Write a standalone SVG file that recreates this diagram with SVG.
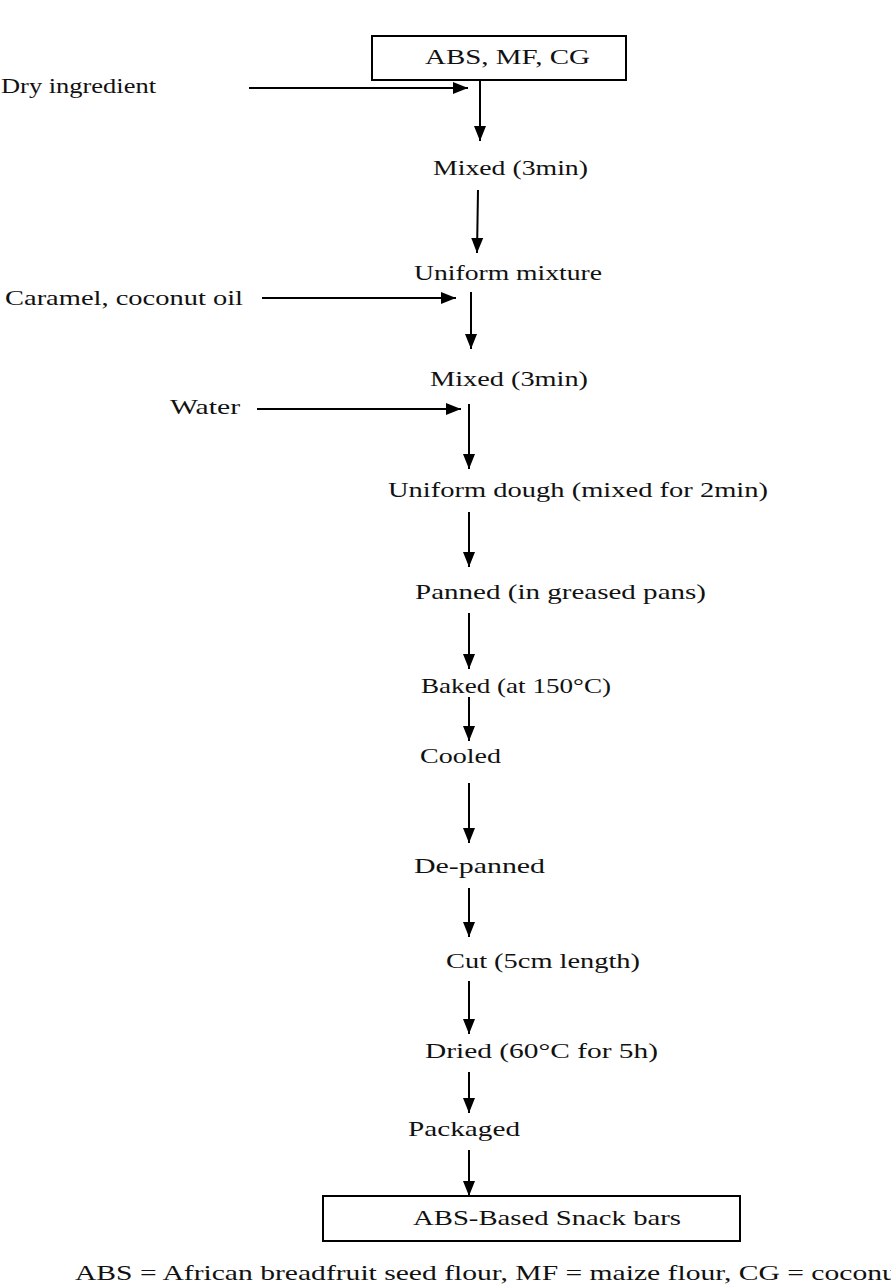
<svg xmlns="http://www.w3.org/2000/svg" width="891" height="1284" viewBox="0 0 891 1284">
<defs>
<marker id="av" viewBox="0 0 10 10" refX="10" refY="5" markerWidth="15" markerHeight="15" orient="auto" markerUnits="userSpaceOnUse"><path d="M0,1 L10,5 L0,9 z" fill="#000"/></marker>
<style>
text{font-family:"Liberation Serif","Times New Roman",serif;font-size:21px;fill:#111}
.c line{stroke:#000;stroke-width:2;marker-end:url(#av)}
.box{fill:#fff;stroke:#000;stroke-width:2}
</style>
</defs>
<rect width="891" height="1284" fill="#fff"/>
<g class="c" id="connectors">
<line x1="249" y1="88" x2="468" y2="88"/>
<line x1="480" y1="80" x2="480" y2="141"/>
<line x1="478" y1="190" x2="477" y2="253"/>
<line x1="262" y1="298" x2="456" y2="298"/>
<line x1="471" y1="292" x2="471" y2="349"/>
<line x1="257" y1="409" x2="461" y2="409"/>
<line x1="469" y1="404" x2="469" y2="469"/>
<line x1="469" y1="512" x2="469" y2="567"/>
<line x1="469" y1="613" x2="469" y2="669"/>
<line x1="469" y1="697" x2="469" y2="741"/>
<line x1="469" y1="783" x2="469" y2="843"/>
<line x1="469" y1="888" x2="469" y2="937"/>
<line x1="469" y1="981" x2="469" y2="1034"/>
<line x1="469" y1="1072" x2="469" y2="1113"/>
<line x1="469" y1="1150" x2="469" y2="1196"/>
</g>
<g id="n-start"><rect class="box" x="372" y="36" width="254" height="44"/><text x="425" y="64" textLength="165" lengthAdjust="spacingAndGlyphs">ABS, MF,  CG</text></g>
<g id="n-dry"><text x="1" y="93" textLength="155" lengthAdjust="spacingAndGlyphs">Dry ingredient</text></g>
<g id="n-mixed1"><text x="433" y="175" textLength="155" lengthAdjust="spacingAndGlyphs">Mixed (3min)</text></g>
<g id="n-uniform"><text x="414" y="280" textLength="188" lengthAdjust="spacingAndGlyphs">Uniform mixture</text></g>
<g id="n-caramel"><text x="5" y="305" textLength="238" lengthAdjust="spacingAndGlyphs">Caramel, coconut oil</text></g>
<g id="n-mixed2"><text x="430" y="386" textLength="158" lengthAdjust="spacingAndGlyphs">Mixed (3min)</text></g>
<g id="n-water"><text x="170" y="414" textLength="70" lengthAdjust="spacingAndGlyphs">Water</text></g>
<g id="n-dough"><text x="388" y="497" textLength="380" lengthAdjust="spacingAndGlyphs">Uniform dough (mixed for 2min)</text></g>
<g id="n-panned"><text x="415" y="599" textLength="291" lengthAdjust="spacingAndGlyphs">Panned (in greased pans)</text></g>
<g id="n-baked"><text x="421" y="693" textLength="190" lengthAdjust="spacingAndGlyphs">Baked (at 150°C)</text></g>
<g id="n-cooled"><text x="420" y="763" textLength="81" lengthAdjust="spacingAndGlyphs">Cooled</text></g>
<g id="n-depanned"><text x="414" y="873" textLength="131" lengthAdjust="spacingAndGlyphs">De-panned</text></g>
<g id="n-cut"><text x="446" y="968" textLength="194" lengthAdjust="spacingAndGlyphs">Cut (5cm length)</text></g>
<g id="n-dried"><text x="425" y="1058" textLength="233" lengthAdjust="spacingAndGlyphs">Dried (60°C for 5h)</text></g>
<g id="n-packaged"><text x="408" y="1136" textLength="112" lengthAdjust="spacingAndGlyphs">Packaged</text></g>
<g id="n-end"><rect class="box" x="323" y="1196" width="417" height="45"/><text x="413" y="1225" textLength="268" lengthAdjust="spacingAndGlyphs">ABS-Based Snack bars</text></g>
<g id="footnote"><text x="75" y="1280" textLength="830" lengthAdjust="spacingAndGlyphs">ABS = African breadfruit seed flour, MF = maize flour, CG = coconut</text></g>
</svg>
